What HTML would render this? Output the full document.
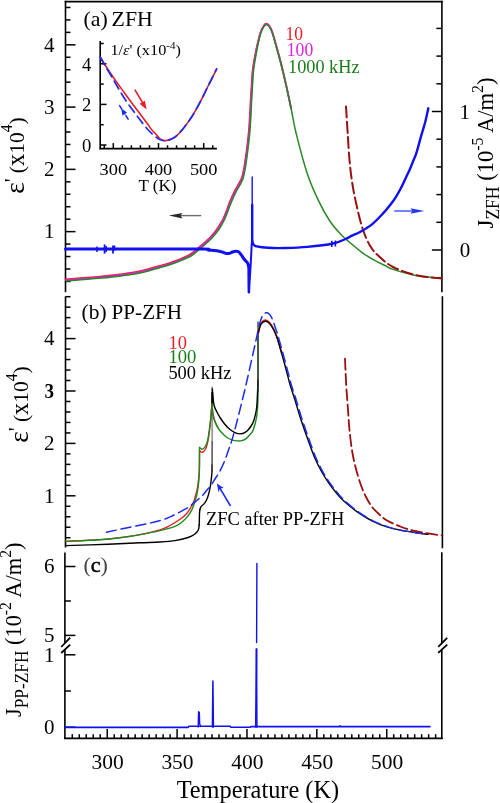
<!DOCTYPE html>
<html><head><meta charset="utf-8"><title>Dielectric permittivity and pyroelectric current vs temperature</title>
<style>html,body{margin:0;padding:0;background:#fff;} svg{display:block;}</style></head>
<body><svg width="500" height="803" viewBox="0 0 500 803">
<rect width="500" height="803" fill="#fff"/>
<g><line x1="64.7" y1="1.6" x2="442.7" y2="1.6" stroke="#000" stroke-width="1.6" /><line x1="65.5" y1="0.8" x2="65.5" y2="292.2" stroke="#000" stroke-width="1.6" /><line x1="441.9" y1="0.8" x2="441.9" y2="292.2" stroke="#000" stroke-width="1.6" /><line x1="65.5" y1="296.5" x2="65.5" y2="547.5" stroke="#000" stroke-width="1.6" /><line x1="442.4" y1="296.2" x2="442.4" y2="548.3" stroke="#000" stroke-width="1.6" /><line x1="64.9" y1="552.6" x2="64.9" y2="643.2" stroke="#000" stroke-width="1.6" /><line x1="64.9" y1="649.6" x2="64.9" y2="739.1" stroke="#000" stroke-width="1.6" /><line x1="441.8" y1="552.2" x2="441.8" y2="643.2" stroke="#000" stroke-width="1.6" /><line x1="441.8" y1="649.5" x2="441.8" y2="739.1" stroke="#000" stroke-width="1.6" /><line x1="64.1" y1="738.4" x2="442.6" y2="738.4" stroke="#000" stroke-width="1.8" /><line x1="61.2" y1="647" x2="70.2" y2="637.6" stroke="#000" stroke-width="1.8" /><line x1="61.2" y1="653" x2="70.2" y2="644.6" stroke="#000" stroke-width="1.8" /><line x1="438.2" y1="646.8" x2="447.2" y2="637.8" stroke="#000" stroke-width="1.8" /><line x1="438.2" y1="652.8" x2="447.2" y2="644.6" stroke="#000" stroke-width="1.8" /><line x1="65.5" y1="281.45" x2="70.5" y2="281.45" stroke="#000" stroke-width="1.5" /><line x1="65.5" y1="268.99" x2="70.5" y2="268.99" stroke="#000" stroke-width="1.5" /><line x1="65.5" y1="256.54" x2="70.5" y2="256.54" stroke="#000" stroke-width="1.5" /><line x1="65.5" y1="244.08" x2="70.5" y2="244.08" stroke="#000" stroke-width="1.5" /><line x1="65.5" y1="231.63" x2="75.5" y2="231.63" stroke="#000" stroke-width="1.5" /><line x1="65.5" y1="219.18" x2="70.5" y2="219.18" stroke="#000" stroke-width="1.5" /><line x1="65.5" y1="206.72" x2="70.5" y2="206.72" stroke="#000" stroke-width="1.5" /><line x1="65.5" y1="194.27" x2="70.5" y2="194.27" stroke="#000" stroke-width="1.5" /><line x1="65.5" y1="181.81" x2="70.5" y2="181.81" stroke="#000" stroke-width="1.5" /><line x1="65.5" y1="169.36" x2="75.5" y2="169.36" stroke="#000" stroke-width="1.5" /><line x1="65.5" y1="156.91" x2="70.5" y2="156.91" stroke="#000" stroke-width="1.5" /><line x1="65.5" y1="144.45" x2="70.5" y2="144.45" stroke="#000" stroke-width="1.5" /><line x1="65.5" y1="132" x2="70.5" y2="132" stroke="#000" stroke-width="1.5" /><line x1="65.5" y1="119.54" x2="70.5" y2="119.54" stroke="#000" stroke-width="1.5" /><line x1="65.5" y1="107.09" x2="75.5" y2="107.09" stroke="#000" stroke-width="1.5" /><line x1="65.5" y1="94.64" x2="70.5" y2="94.64" stroke="#000" stroke-width="1.5" /><line x1="65.5" y1="82.18" x2="70.5" y2="82.18" stroke="#000" stroke-width="1.5" /><line x1="65.5" y1="69.73" x2="70.5" y2="69.73" stroke="#000" stroke-width="1.5" /><line x1="65.5" y1="57.27" x2="70.5" y2="57.27" stroke="#000" stroke-width="1.5" /><line x1="65.5" y1="44.82" x2="75.5" y2="44.82" stroke="#000" stroke-width="1.5" /><line x1="65.5" y1="32.37" x2="70.5" y2="32.37" stroke="#000" stroke-width="1.5" /><line x1="65.5" y1="19.91" x2="70.5" y2="19.91" stroke="#000" stroke-width="1.5" /><line x1="65.5" y1="7.46" x2="70.5" y2="7.46" stroke="#000" stroke-width="1.5" /><line x1="436.4" y1="277.7" x2="441.9" y2="277.7" stroke="#000" stroke-width="1.5" /><line x1="431.9" y1="250" x2="441.9" y2="250" stroke="#000" stroke-width="1.5" /><line x1="436.4" y1="222.3" x2="441.9" y2="222.3" stroke="#000" stroke-width="1.5" /><line x1="436.4" y1="194.6" x2="441.9" y2="194.6" stroke="#000" stroke-width="1.5" /><line x1="436.4" y1="166.9" x2="441.9" y2="166.9" stroke="#000" stroke-width="1.5" /><line x1="436.4" y1="139.2" x2="441.9" y2="139.2" stroke="#000" stroke-width="1.5" /><line x1="431.9" y1="111.5" x2="441.9" y2="111.5" stroke="#000" stroke-width="1.5" /><line x1="436.4" y1="83.8" x2="441.9" y2="83.8" stroke="#000" stroke-width="1.5" /><line x1="436.4" y1="56.1" x2="441.9" y2="56.1" stroke="#000" stroke-width="1.5" /><line x1="436.4" y1="28.4" x2="441.9" y2="28.4" stroke="#000" stroke-width="1.5" /><line x1="65.5" y1="537.72" x2="70.5" y2="537.72" stroke="#000" stroke-width="1.5" /><line x1="65.5" y1="527.24" x2="70.5" y2="527.24" stroke="#000" stroke-width="1.5" /><line x1="65.5" y1="516.76" x2="70.5" y2="516.76" stroke="#000" stroke-width="1.5" /><line x1="65.5" y1="506.28" x2="70.5" y2="506.28" stroke="#000" stroke-width="1.5" /><line x1="65.5" y1="495.8" x2="75.5" y2="495.8" stroke="#000" stroke-width="1.5" /><line x1="65.5" y1="485.32" x2="70.5" y2="485.32" stroke="#000" stroke-width="1.5" /><line x1="65.5" y1="474.84" x2="70.5" y2="474.84" stroke="#000" stroke-width="1.5" /><line x1="65.5" y1="464.36" x2="70.5" y2="464.36" stroke="#000" stroke-width="1.5" /><line x1="65.5" y1="453.88" x2="70.5" y2="453.88" stroke="#000" stroke-width="1.5" /><line x1="65.5" y1="443.4" x2="75.5" y2="443.4" stroke="#000" stroke-width="1.5" /><line x1="65.5" y1="432.92" x2="70.5" y2="432.92" stroke="#000" stroke-width="1.5" /><line x1="65.5" y1="422.44" x2="70.5" y2="422.44" stroke="#000" stroke-width="1.5" /><line x1="65.5" y1="411.96" x2="70.5" y2="411.96" stroke="#000" stroke-width="1.5" /><line x1="65.5" y1="401.48" x2="70.5" y2="401.48" stroke="#000" stroke-width="1.5" /><line x1="65.5" y1="391" x2="75.5" y2="391" stroke="#000" stroke-width="1.5" /><line x1="65.5" y1="380.52" x2="70.5" y2="380.52" stroke="#000" stroke-width="1.5" /><line x1="65.5" y1="370.04" x2="70.5" y2="370.04" stroke="#000" stroke-width="1.5" /><line x1="65.5" y1="359.56" x2="70.5" y2="359.56" stroke="#000" stroke-width="1.5" /><line x1="65.5" y1="349.08" x2="70.5" y2="349.08" stroke="#000" stroke-width="1.5" /><line x1="65.5" y1="338.6" x2="75.5" y2="338.6" stroke="#000" stroke-width="1.5" /><line x1="65.5" y1="328.12" x2="70.5" y2="328.12" stroke="#000" stroke-width="1.5" /><line x1="65.5" y1="317.64" x2="70.5" y2="317.64" stroke="#000" stroke-width="1.5" /><line x1="65.5" y1="307.16" x2="70.5" y2="307.16" stroke="#000" stroke-width="1.5" /><line x1="65.5" y1="296.68" x2="70.5" y2="296.68" stroke="#000" stroke-width="1.5" /><line x1="64.9" y1="566.5" x2="75.4" y2="566.5" stroke="#000" stroke-width="1.5" /><line x1="64.9" y1="601" x2="70.9" y2="601" stroke="#000" stroke-width="1.5" /><line x1="64.9" y1="635.4" x2="75.4" y2="635.4" stroke="#000" stroke-width="1.5" /><line x1="64.9" y1="654.8" x2="75.4" y2="654.8" stroke="#000" stroke-width="1.5" /><line x1="64.9" y1="691" x2="70.9" y2="691" stroke="#000" stroke-width="1.5" /><line x1="64.9" y1="727.2" x2="75.4" y2="727.2" stroke="#000" stroke-width="1.5" /><line x1="72.29" y1="738.4" x2="72.29" y2="734.2" stroke="#000" stroke-width="1.5" /><line x1="79.27" y1="738.4" x2="79.27" y2="734.2" stroke="#000" stroke-width="1.5" /><line x1="86.26" y1="738.4" x2="86.26" y2="734.2" stroke="#000" stroke-width="1.5" /><line x1="93.25" y1="738.4" x2="93.25" y2="734.2" stroke="#000" stroke-width="1.5" /><line x1="100.24" y1="738.4" x2="100.24" y2="734.2" stroke="#000" stroke-width="1.5" /><line x1="107.22" y1="738.4" x2="107.22" y2="728.9" stroke="#000" stroke-width="1.5" /><line x1="114.21" y1="738.4" x2="114.21" y2="734.2" stroke="#000" stroke-width="1.5" /><line x1="121.2" y1="738.4" x2="121.2" y2="734.2" stroke="#000" stroke-width="1.5" /><line x1="128.19" y1="738.4" x2="128.19" y2="734.2" stroke="#000" stroke-width="1.5" /><line x1="135.18" y1="738.4" x2="135.18" y2="734.2" stroke="#000" stroke-width="1.5" /><line x1="142.16" y1="738.4" x2="142.16" y2="734.2" stroke="#000" stroke-width="1.5" /><line x1="149.15" y1="738.4" x2="149.15" y2="734.2" stroke="#000" stroke-width="1.5" /><line x1="156.14" y1="738.4" x2="156.14" y2="734.2" stroke="#000" stroke-width="1.5" /><line x1="163.12" y1="738.4" x2="163.12" y2="734.2" stroke="#000" stroke-width="1.5" /><line x1="170.11" y1="738.4" x2="170.11" y2="734.2" stroke="#000" stroke-width="1.5" /><line x1="177.1" y1="738.4" x2="177.1" y2="728.9" stroke="#000" stroke-width="1.5" /><line x1="184.09" y1="738.4" x2="184.09" y2="734.2" stroke="#000" stroke-width="1.5" /><line x1="191.07" y1="738.4" x2="191.07" y2="734.2" stroke="#000" stroke-width="1.5" /><line x1="198.06" y1="738.4" x2="198.06" y2="734.2" stroke="#000" stroke-width="1.5" /><line x1="205.05" y1="738.4" x2="205.05" y2="734.2" stroke="#000" stroke-width="1.5" /><line x1="212.04" y1="738.4" x2="212.04" y2="734.2" stroke="#000" stroke-width="1.5" /><line x1="219.02" y1="738.4" x2="219.02" y2="734.2" stroke="#000" stroke-width="1.5" /><line x1="226.01" y1="738.4" x2="226.01" y2="734.2" stroke="#000" stroke-width="1.5" /><line x1="233" y1="738.4" x2="233" y2="734.2" stroke="#000" stroke-width="1.5" /><line x1="239.99" y1="738.4" x2="239.99" y2="734.2" stroke="#000" stroke-width="1.5" /><line x1="246.97" y1="738.4" x2="246.97" y2="728.9" stroke="#000" stroke-width="1.5" /><line x1="253.96" y1="738.4" x2="253.96" y2="734.2" stroke="#000" stroke-width="1.5" /><line x1="260.95" y1="738.4" x2="260.95" y2="734.2" stroke="#000" stroke-width="1.5" /><line x1="267.94" y1="738.4" x2="267.94" y2="734.2" stroke="#000" stroke-width="1.5" /><line x1="274.93" y1="738.4" x2="274.93" y2="734.2" stroke="#000" stroke-width="1.5" /><line x1="281.91" y1="738.4" x2="281.91" y2="734.2" stroke="#000" stroke-width="1.5" /><line x1="288.9" y1="738.4" x2="288.9" y2="734.2" stroke="#000" stroke-width="1.5" /><line x1="295.89" y1="738.4" x2="295.89" y2="734.2" stroke="#000" stroke-width="1.5" /><line x1="302.88" y1="738.4" x2="302.88" y2="734.2" stroke="#000" stroke-width="1.5" /><line x1="309.86" y1="738.4" x2="309.86" y2="734.2" stroke="#000" stroke-width="1.5" /><line x1="316.85" y1="738.4" x2="316.85" y2="728.9" stroke="#000" stroke-width="1.5" /><line x1="323.84" y1="738.4" x2="323.84" y2="734.2" stroke="#000" stroke-width="1.5" /><line x1="330.82" y1="738.4" x2="330.82" y2="734.2" stroke="#000" stroke-width="1.5" /><line x1="337.81" y1="738.4" x2="337.81" y2="734.2" stroke="#000" stroke-width="1.5" /><line x1="344.8" y1="738.4" x2="344.8" y2="734.2" stroke="#000" stroke-width="1.5" /><line x1="351.79" y1="738.4" x2="351.79" y2="734.2" stroke="#000" stroke-width="1.5" /><line x1="358.77" y1="738.4" x2="358.77" y2="734.2" stroke="#000" stroke-width="1.5" /><line x1="365.76" y1="738.4" x2="365.76" y2="734.2" stroke="#000" stroke-width="1.5" /><line x1="372.75" y1="738.4" x2="372.75" y2="734.2" stroke="#000" stroke-width="1.5" /><line x1="379.74" y1="738.4" x2="379.74" y2="734.2" stroke="#000" stroke-width="1.5" /><line x1="386.73" y1="738.4" x2="386.73" y2="728.9" stroke="#000" stroke-width="1.5" /><line x1="393.71" y1="738.4" x2="393.71" y2="734.2" stroke="#000" stroke-width="1.5" /><line x1="400.7" y1="738.4" x2="400.7" y2="734.2" stroke="#000" stroke-width="1.5" /><line x1="407.69" y1="738.4" x2="407.69" y2="734.2" stroke="#000" stroke-width="1.5" /><line x1="414.68" y1="738.4" x2="414.68" y2="734.2" stroke="#000" stroke-width="1.5" /><line x1="421.66" y1="738.4" x2="421.66" y2="734.2" stroke="#000" stroke-width="1.5" /><line x1="428.65" y1="738.4" x2="428.65" y2="734.2" stroke="#000" stroke-width="1.5" /><line x1="435.64" y1="738.4" x2="435.64" y2="734.2" stroke="#000" stroke-width="1.5" /><path d="M65.5 279.4 C67.92 279.2 74.25 278.67 80 278.2 C85.75 277.73 93.33 277.23 100 276.6 C106.67 275.97 113.33 275.3 120 274.4 C126.67 273.5 133.33 272.63 140 271.2 C146.67 269.77 154.17 267.5 160 265.8 C165.83 264.1 170 262.88 175 261 C180 259.12 185.83 256.92 190 254.5 C194.17 252.08 196.67 249.33 200 246.5 C203.33 243.67 207.33 240.17 210 237.5 C212.67 234.83 214.33 232.67 216 230.5 C217.67 228.33 218.67 226.75 220 224.5 C221.33 222.25 222.83 219.5 224 217 C225.17 214.5 226 212.1 227 209.5 C228 206.9 228.58 204.73 230 201.4 C231.42 198.07 234 192.48 235.5 189.5 C237 186.52 237.92 185.58 239 183.5 C240.08 181.42 241.1 179.92 242 177 C242.9 174.08 243.67 170.17 244.4 166 C245.13 161.83 245.8 156.5 246.4 152 C247 147.5 247.53 143.33 248 139 C248.47 134.67 248.87 130.45 249.2 126 C249.53 121.55 249.72 117.48 250 112.3 C250.28 107.12 250.6 99.98 250.9 94.9 C251.2 89.82 251.52 85.87 251.8 81.8 C252.08 77.73 252.17 74.3 252.6 70.5 C253.03 66.7 253.58 63.48 254.4 59 C255.22 54.52 256.37 48.35 257.5 43.6 C258.63 38.85 259.75 33.85 261.2 30.5 C262.65 27.15 264.53 23.75 266.2 23.5 C267.87 23.25 269.55 25.43 271.2 29 C272.85 32.57 274.45 39.15 276.1 44.9 C277.75 50.65 279.43 56.87 281.1 63.5 C282.77 70.13 284.43 77.22 286.1 84.7 C287.77 92.18 290.27 104.45 291.1 108.4" fill="none" stroke="#ec1c24" stroke-width="1.7" stroke-linejoin="round" stroke-linecap="round" /><path d="M65.95 280.07 C68.37 279.88 74.7 279.34 80.45 278.88 C86.2 278.41 93.78 277.91 100.45 277.28 C107.12 276.64 113.78 275.98 120.45 275.07 C127.12 274.17 133.78 273.31 140.45 271.88 C147.12 270.44 154.62 268.18 160.45 266.48 C166.28 264.78 170.45 263.56 175.45 261.68 C180.45 259.79 186.28 257.59 190.45 255.18 C194.62 252.76 197.12 250.01 200.45 247.18 C203.78 244.34 207.78 240.84 210.45 238.18 C213.12 235.51 214.78 233.34 216.45 231.18 C218.12 229.01 219.12 227.43 220.45 225.18 C221.78 222.93 223.28 220.18 224.45 217.68 C225.62 215.18 226.45 212.78 227.45 210.18 C228.45 207.58 229.03 205.41 230.45 202.08 C231.87 198.74 234.45 193.16 235.95 190.18 C237.45 187.19 238.37 186.26 239.45 184.18 C240.53 182.09 241.55 180.59 242.45 177.68 C243.35 174.76 244.12 170.84 244.85 166.68 C245.58 162.51 246.25 157.18 246.85 152.68 C247.45 148.18 247.98 144.01 248.45 139.68 C248.92 135.34 249.32 131.12 249.65 126.67 C249.98 122.22 250.17 118.16 250.45 112.97 C250.73 107.79 251.03 100.65 251.32 95.57 C251.6 90.48 251.91 86.53 252.18 82.46 C252.46 78.39 252.54 74.96 252.95 71.16 C253.37 67.35 253.9 64.13 254.69 59.64 C255.47 55.15 256.58 48.98 257.67 44.22 C258.76 39.46 259.81 34.45 261.23 31.09 C262.65 27.74 264.54 24.34 266.2 24.09 C267.86 23.83 269.55 26.02 271.2 29.59 C272.85 33.15 274.45 39.74 276.1 45.48 C277.75 51.23 279.43 57.45 281.1 64.03 C282.77 70.62 284.43 77.59 286.1 84.99 C287.77 92.39 290.27 104.53 291.1 108.44" fill="none" stroke="#e020e0" stroke-width="1.7" stroke-linejoin="round" stroke-linecap="round" /><path d="M66.5 280.9 C68.92 280.7 75.25 280.17 81 279.7 C86.75 279.23 94.33 278.73 101 278.1 C107.67 277.47 114.33 276.8 121 275.9 C127.67 275 134.33 274.13 141 272.7 C147.67 271.27 155.17 269 161 267.3 C166.83 265.6 171 264.38 176 262.5 C181 260.62 186.83 258.42 191 256 C195.17 253.58 197.67 250.83 201 248 C204.33 245.17 208.33 241.67 211 239 C213.67 236.33 215.33 234.17 217 232 C218.67 229.83 219.67 228.25 221 226 C222.33 223.75 223.83 221 225 218.5 C226.17 216 227 213.6 228 211 C229 208.4 229.58 206.23 231 202.9 C232.42 199.57 235 193.98 236.5 191 C238 188.02 238.92 187.08 240 185 C241.08 182.92 242.1 181.42 243 178.5 C243.9 175.58 244.67 171.67 245.4 167.5 C246.13 163.33 246.8 158 247.4 153.5 C248 149 248.53 144.83 249 140.5 C249.47 136.17 249.87 131.95 250.2 127.5 C250.53 123.05 250.73 118.99 251 113.8 C251.27 108.61 251.55 101.47 251.83 96.39 C252.1 91.3 252.39 87.34 252.65 83.27 C252.91 79.2 252.99 75.76 253.38 71.96 C253.78 68.15 254.28 64.92 255.03 60.43 C255.78 55.93 256.84 49.74 257.88 44.98 C258.91 40.21 259.88 35.18 261.27 31.81 C262.65 28.45 264.54 25.05 266.2 24.8 C267.86 24.55 269.55 26.73 271.2 30.3 C272.85 33.87 274.45 40.47 276.1 46.2 C277.75 51.93 279.43 58.16 281.1 64.68 C282.77 71.2 284.43 78.04 286.1 85.34 C287.77 92.64 289.42 100.45 291.1 108.5 C292.78 116.54 293.48 122.68 296.2 133.6 C298.92 144.52 303.67 162.78 307.4 174 C311.13 185.22 314.87 193.07 318.6 200.9 C322.33 208.73 326.07 215.4 329.8 221 C333.53 226.6 337.25 230.57 341 234.5 C344.75 238.43 348.55 241.42 352.3 244.6 C356.05 247.78 359.77 250.98 363.5 253.6 C367.23 256.22 371.12 258.32 374.7 260.3 C378.28 262.28 381.95 263.98 385 265.5 C388.05 267.02 387.83 267.72 393 269.4 C398.17 271.08 407.85 274.08 416 275.6 C424.15 277.12 437.58 278.02 441.9 278.5" fill="none" stroke="#268826" stroke-width="1.5" stroke-linejoin="round" stroke-linecap="round" /><path d="M346 106.5 C346.3 111.25 347.22 126.08 347.8 135 C348.38 143.92 348.83 152.5 349.5 160 C350.17 167.5 350.78 173.18 351.8 180 C352.82 186.82 353.83 192.9 355.6 200.9 C357.37 208.9 359.97 220.48 362.4 228 C364.83 235.52 367.4 241.25 370.2 246 C373 250.75 375.4 253 379.2 256.5 C383 260 386.87 263.88 393 267 C399.13 270.12 407.85 273.28 416 275.2 C424.15 277.12 437.58 277.95 441.9 278.5" fill="none" stroke="#9a1010" stroke-width="2.0" stroke-linejoin="round" stroke-linecap="round" stroke-dasharray="11 4.3" stroke-linecap="butt"/><path d="M65.5 249 C79.58 249 126.92 249 150 249 C173.08 249 194.33 248.83 204 249 C213.67 249.17 206.33 249.75 208 250 C209.67 250.25 212.17 250.3 214 250.5 C215.83 250.7 217.5 250.9 219 251.2 C220.5 251.5 221.75 251.92 223 252.3 C224.25 252.68 225.42 253.32 226.5 253.5 C227.58 253.68 228.5 253.65 229.5 253.4 C230.5 253.15 231.47 252.37 232.5 252 C233.53 251.63 234.7 251.23 235.7 251.2 C236.7 251.17 237.62 251.25 238.5 251.8 C239.38 252.35 240.02 253.22 241 254.5 C241.98 255.78 243.35 258.17 244.4 259.5 C245.45 260.83 246.6 261.42 247.3 262.5 C248 263.58 248.38 265.42 248.6 266" fill="none" stroke="#1010f0" stroke-width="3.0" stroke-linejoin="round" stroke-linecap="round" /><path d="M248.6 265 L248.9 292.3" fill="none" stroke="#1010f0" stroke-width="2.6" stroke-linejoin="round" stroke-linecap="round" stroke-linecap="butt"/><path d="M248.9 292 L250.4 269.5 L251.8 243" fill="none" stroke="#1010f0" stroke-width="2.0" stroke-linejoin="round" stroke-linecap="round" /><path d="M252.2 244 L252.2 205" fill="none" stroke="#1010f0" stroke-width="2.4" stroke-linejoin="round" stroke-linecap="round" stroke-linecap="butt"/><path d="M252.2 206 L252.2 177" fill="none" stroke="#1010f0" stroke-width="1.4" stroke-linejoin="round" stroke-linecap="round" stroke-linecap="butt"/><path d="M252.2 241 C252.43 241.6 252.85 243.7 253.6 244.6 C254.35 245.5 254.3 245.87 256.7 246.4 C259.1 246.93 263.28 247.53 268 247.8 C272.72 248.07 278.43 248.15 285 248 C291.57 247.85 299.37 247.65 307.4 246.9 C315.43 246.15 326.85 244.82 333.2 243.5 C339.55 242.18 342.37 240.32 345.5 239 C348.63 237.68 349.58 236.77 352 235.6 C354.42 234.43 356.67 233.87 360 232 C363.33 230.13 368 227.67 372 224.4 C376 221.13 381 215.6 384 212.4 C387 209.2 388 207.8 390 205.2 C392 202.6 394 200 396 196.8 C398 193.6 400.33 189.22 402 186 C403.67 182.78 404.67 180.35 406 177.5 C407.33 174.65 408.78 171.68 410 168.9 C411.22 166.12 412.2 163.57 413.3 160.8 C414.4 158.03 415.33 156.3 416.6 152.3 C417.87 148.3 419.45 141.88 420.9 136.8 C422.35 131.72 424.07 126.55 425.3 121.8 C426.53 117.05 427.8 110.55 428.3 108.3" fill="none" stroke="#1010f0" stroke-width="2.4" stroke-linejoin="round" stroke-linecap="round" /><line x1="97" y1="246.6" x2="97" y2="252" stroke="#1010f0" stroke-width="1.5" /><line x1="104.6" y1="244.4" x2="104.6" y2="253.6" stroke="#1010f0" stroke-width="1.8" /><line x1="106.2" y1="246" x2="106.2" y2="252" stroke="#1010f0" stroke-width="1.5" /><line x1="113" y1="245.4" x2="113" y2="253.4" stroke="#1010f0" stroke-width="1.8" /><line x1="114.6" y1="245.5" x2="114.6" y2="250.5" stroke="#1010f0" stroke-width="1.4" /><line x1="331.8" y1="240.8" x2="331.8" y2="247" stroke="#1010f0" stroke-width="1.6" /><line x1="335.4" y1="240.5" x2="335.4" y2="246.5" stroke="#1010f0" stroke-width="1.6" /><line x1="201.2" y1="215.6" x2="178" y2="215.6" stroke="#6a6a6a" stroke-width="1.4" /><path d="M168.8 215.6 L182.5 212.9 L180.5 215.6 L182.5 218.4 Z" fill="#2a2a2a"/><line x1="394.2" y1="211" x2="414" y2="211" stroke="#5068ff" stroke-width="1.6" /><path d="M424.4 211 L410.5 208.2 L412.5 211 L410.5 213.8 Z" fill="#2838f0"/><path d="M65.5 541.4 C71.25 541.1 90.92 540.23 100 539.6 C109.08 538.97 113.33 538.43 120 537.6 C126.67 536.77 133.33 535.9 140 534.6 C146.67 533.3 155 531.32 160 529.8 C165 528.28 166.67 527.25 170 525.5 C173.33 523.75 177.17 521.35 180 519.3 C182.83 517.25 185.17 515.25 187 513.2 C188.83 511.15 189.83 509.03 191 507 C192.17 504.97 193.17 503.17 194 501 C194.83 498.83 195.4 496.33 196 494 C196.6 491.67 197.07 490.55 197.6 487 C198.13 483.45 198.88 478.78 199.2 472.7 C199.52 466.62 199.45 454.2 199.5 450.5" fill="none" stroke="#ec1c24" stroke-width="1.4" stroke-linejoin="round" stroke-linecap="round" /><path d="M199.5 450.5 C199.83 450.78 200.92 451.98 201.5 452.2 C202.08 452.42 202.42 452.17 203 451.8 C203.58 451.43 204.33 451.13 205 450 C205.67 448.87 206.42 447 207 445 C207.58 443 208 441 208.5 438 C209 435 209.58 430.5 210 427 C210.42 423.5 210.75 419.83 211 417 C211.25 414.17 211.33 412 211.5 410 C211.67 408 211.92 405.83 212 405" fill="none" stroke="#ec1c24" stroke-width="1.4" stroke-linejoin="round" stroke-linecap="round" /><path d="M65.5 541.4 C71.25 541.13 90.92 540.4 100 539.8 C109.08 539.2 113.33 538.67 120 537.8 C126.67 536.93 133.33 535.8 140 534.6 C146.67 533.4 154.17 531.97 160 530.6 C165.83 529.23 171.42 527.75 175 526.4 C178.58 525.05 179.32 524.25 181.5 522.5 C183.68 520.75 186.35 518.08 188.1 515.9 C189.85 513.72 190.8 512.02 192 509.4 C193.2 506.78 194.42 503.03 195.3 500.2 C196.18 497.37 196.75 495.23 197.3 492.4 C197.85 489.57 198.28 486.27 198.6 483.2 C198.92 480.13 199.05 476.83 199.2 474 C199.35 471.17 199.45 470.62 199.5 466.2 C199.55 461.78 199.5 450.62 199.5 447.5" fill="none" stroke="#1d8a1d" stroke-width="1.4" stroke-linejoin="round" stroke-linecap="round" /><path d="M199.5 447.5 C199.83 447.75 200.92 448.78 201.5 449 C202.08 449.22 202.42 449.13 203 448.8 C203.58 448.47 204.25 448.3 205 447 C205.75 445.7 206.83 443.5 207.5 441 C208.17 438.5 208.5 435.5 209 432 C209.5 428.5 210.08 423.92 210.5 420 C210.92 416.08 211.25 411.25 211.5 408.5 C211.75 405.75 211.92 404.33 212 403.5" fill="none" stroke="#1d8a1d" stroke-width="1.4" stroke-linejoin="round" stroke-linecap="round" /><path d="M65.5 545.6 C72.58 545.37 95.58 544.67 108 544.2 C120.42 543.73 131.33 543.17 140 542.8 C148.67 542.43 154.17 542.37 160 542 C165.83 541.63 170.32 541.35 175 540.6 C179.68 539.85 184.83 538.57 188.1 537.5 C191.37 536.43 192.92 535.4 194.6 534.2 C196.28 533 197.43 531.83 198.2 530.3 C198.97 528.77 199.03 525.88 199.2 525" fill="none" stroke="#000" stroke-width="1.4" stroke-linejoin="round" stroke-linecap="round" /><path d="M199.2 525 L199.5 513.3 L199.9 509.4" fill="none" stroke="#000" stroke-width="1.4" stroke-linejoin="round" stroke-linecap="round" /><path d="M199.9 509.4 C200.12 508.88 200.55 507.18 201.2 506.3 C201.85 505.42 202.93 505.12 203.8 504.1 C204.67 503.08 205.63 501.72 206.4 500.2 C207.17 498.68 207.85 496.75 208.4 495 C208.95 493.25 209.33 491.45 209.7 489.7 C210.07 487.95 210.32 486.45 210.6 484.5 C210.88 482.55 211.18 479.97 211.4 478 C211.62 476.03 211.78 474.87 211.9 472.7 C212.02 470.53 212.07 466.28 212.1 465" fill="none" stroke="#000" stroke-width="1.4" stroke-linejoin="round" stroke-linecap="round" /><line x1="212.1" y1="472" x2="212.1" y2="441" stroke="#444" stroke-width="1.4" /><line x1="212.1" y1="441" x2="212.1" y2="386.5" stroke="#555" stroke-width="1.0" /><line x1="212.2" y1="404" x2="212.2" y2="392" stroke="#000" stroke-width="2.0" /><path d="M212 405 C212.17 406.5 212.5 411.25 213 414 C213.5 416.75 214.17 419.25 215 421.5 C215.83 423.75 217.5 426.5 218 427.5" fill="none" stroke="#ec1c24" stroke-width="1.4" stroke-linejoin="round" stroke-linecap="round" /><path d="M212 403.5 C212.17 405.42 212.5 411.92 213 415 C213.5 418.08 214.17 419.83 215 422 C215.83 424.17 216.83 426.17 218 428 C219.17 429.83 220.5 431.42 222 433 C223.5 434.58 225.33 436.37 227 437.5 C228.67 438.63 230.25 439.23 232 439.8 C233.75 440.37 235.83 440.77 237.5 440.9 C239.17 441.03 240.55 440.98 242 440.6 C243.45 440.22 244.78 439.72 246.2 438.6 C247.62 437.48 249.33 435.33 250.5 433.9 C251.67 432.47 252.18 432.85 253.2 430 C254.22 427.15 255.82 421.63 256.6 416.8 C257.38 411.97 257.67 407.13 257.9 401 C258.13 394.87 257.98 391 258 380 C258.02 369 258 342.5 258 335" fill="none" stroke="#1d8a1d" stroke-width="1.4" stroke-linejoin="round" stroke-linecap="round" /><path d="M212.3 389 C212.58 391.67 213.22 401.17 214 405 C214.78 408.83 216 409.92 217 412 C218 414.08 218.67 415.42 220 417.5 C221.33 419.58 223.33 422.5 225 424.5 C226.67 426.5 228.33 428.15 230 429.5 C231.67 430.85 233.33 431.87 235 432.6 C236.67 433.33 238.3 433.93 240 433.9 C241.7 433.87 243.45 433.55 245.2 432.4 C246.95 431.25 249.03 429.07 250.5 427 C251.97 424.93 252.98 423.17 254 420 C255.02 416.83 256.02 412.5 256.6 408 C257.18 403.5 257.28 397.67 257.5 393 C257.72 388.33 257.83 382.17 257.9 380" fill="none" stroke="#000" stroke-width="1.4" stroke-linejoin="round" stroke-linecap="round" /><line x1="258" y1="392" x2="258" y2="321.5" stroke="#333" stroke-width="1.3" /><path d="M258.2 334 C258.67 332.25 259.68 325.8 261 323.5 C262.32 321.2 264.37 319.95 266.1 320.2 C267.83 320.45 269.65 322.37 271.4 325 C273.15 327.63 274.87 331.27 276.6 336 C278.33 340.73 280.93 350.5 281.8 353.4" fill="none" stroke="#ec1c24" stroke-width="1.5999999999999999" stroke-linejoin="round" stroke-linecap="round" /><path d="M258.2 333 C258.67 331.53 259.68 326.15 261 324.2 C262.32 322.25 264.37 321.02 266.1 321.3 C267.83 321.58 269.65 323.38 271.4 325.9 C273.15 328.42 274.87 331.75 276.6 336.4 C278.33 341.05 280.07 347.7 281.8 353.8 C283.53 359.9 285.63 367.88 287 373 C288.37 378.12 288.67 380 290 384.5 C291.33 389 293.33 394.63 295 400 C296.67 405.37 298 410.53 300 416.7 C302 422.87 304.58 430.23 307 437 C309.42 443.77 312.08 451.55 314.5 457.3 C316.92 463.05 319.08 467.15 321.5 471.5 C323.92 475.85 326.58 479.9 329 483.4 C331.42 486.9 333.58 489.6 336 492.5 C338.42 495.4 339.83 497.48 343.5 500.8 C347.17 504.12 353.17 509.02 358 512.4 C362.83 515.78 367.67 518.68 372.5 521.1 C377.33 523.52 382.17 525.35 387 526.9 C391.83 528.45 396.67 529.43 401.5 530.4 C406.33 531.37 411.58 532.05 416 532.7 C420.42 533.35 426 534.03 428 534.3" fill="none" stroke="#000" stroke-width="1.4" stroke-linejoin="round" stroke-linecap="round" /><path d="M106.4 532.2 C110.33 531.37 122.73 528.73 130 527.2 C137.27 525.67 144.47 524.27 150 523 C155.53 521.73 159.37 520.85 163.2 519.6 C167.03 518.35 170 516.88 173 515.5 C176 514.12 178.53 512.72 181.2 511.3 C183.87 509.88 187.03 508.28 189 507 C190.97 505.72 191.5 504.85 193 503.6 C194.5 502.35 196.42 500.85 198 499.5 C199.58 498.15 201 497.08 202.5 495.5 C204 493.92 205.67 491.58 207 490 C208.33 488.42 209.17 487.83 210.5 486 C211.83 484.17 213.42 481.5 215 479 C216.58 476.5 218.33 474.17 220 471 C221.67 467.83 223.55 463.58 225 460 C226.45 456.42 227.53 452.83 228.7 449.5 C229.87 446.17 230.53 445 232 440 C233.47 435 235.13 428.83 237.5 419.5 C239.87 410.17 243.3 396.38 246.2 384 C249.1 371.62 252.45 355.95 254.9 345.2 C257.35 334.45 259.03 324.9 260.9 319.5 C262.77 314.1 264.35 313.18 266.1 312.8 C267.85 312.42 269.52 313.67 271.4 317.2 C273.28 320.73 275.47 327.93 277.4 334 C279.33 340.07 281.2 347.1 283 353.6 C284.8 360.1 286.83 367.85 288.2 373 C289.57 378.15 289.87 380 291.2 384.5 C292.53 389 294.53 394.63 296.2 400 C297.87 405.37 299.2 410.53 301.2 416.7 C303.2 422.87 305.78 430.23 308.2 437 C310.62 443.77 313.28 451.55 315.7 457.3 C318.12 463.05 320.28 467.15 322.7 471.5 C325.12 475.85 327.78 479.9 330.2 483.4 C332.62 486.9 334.78 489.6 337.2 492.5 C339.62 495.4 341.07 497.48 344.7 500.8 C348.33 504.12 354.2 509.02 359 512.4 C363.8 515.78 368.67 518.68 373.5 521.1 C378.33 523.52 383.25 525.35 388 526.9 C392.75 528.45 397.33 529.43 402 530.4 C406.67 531.37 411.67 532.05 416 532.7 C420.33 533.35 426 534.03 428 534.3" fill="none" stroke="#1a2cf0" stroke-width="1.5" stroke-linejoin="round" stroke-linecap="round" stroke-dasharray="10 5" stroke-linecap="butt"/><path d="M345 358.7 C345.2 363.08 345.72 376.78 346.2 385 C346.68 393.22 347.35 400.5 347.9 408 C348.45 415.5 348.78 422.75 349.5 430 C350.22 437.25 351.12 445 352.2 451.5 C353.28 458 354.55 463.42 356 469 C357.45 474.58 359.23 480.33 360.9 485 C362.57 489.67 364.07 493.25 366 497 C367.93 500.75 370.17 504.5 372.5 507.5 C374.83 510.5 377.58 512.83 380 515 C382.42 517.17 383.42 518.5 387 520.5 C390.58 522.5 396.67 525.22 401.5 527 C406.33 528.78 409.18 529.77 416 531.2 C422.82 532.63 438 534.87 442.4 535.6" fill="none" stroke="#9a1010" stroke-width="1.8" stroke-linejoin="round" stroke-linecap="round" stroke-dasharray="11 4.3" stroke-linecap="butt"/><line x1="230.5" y1="506" x2="219.5" y2="487.5" stroke="#1a2cf0" stroke-width="1.5" /><path d="M216.9 483.6 L218.6 492.4 L219.9 488.5 L223.8 488.1 Z" fill="#1a2cf0"/><path d="M64.9 727.4 L188 727.4 L189 726.2 L230 726.2 L231 727.3 L250 727.3 L251 726.6 L430 726.6" fill="none" stroke="#1010f0" stroke-width="1.6" stroke-linejoin="round" stroke-linecap="round" /><path d="M198.2 727 L198.6 711.8 L199.3 712.5 L199.7 724 L200.8 726.6" fill="none" stroke="#1010f0" stroke-width="1.4" stroke-linejoin="round" stroke-linecap="round" /><path d="M212.4 727 L212.9 681 L213.4 727" fill="none" stroke="#1010f0" stroke-width="1.5" stroke-linejoin="round" stroke-linecap="round" /><path d="M255.8 727 L256.5 649" fill="none" stroke="#1010f0" stroke-width="1.7" stroke-linejoin="round" stroke-linecap="round" /><path d="M256.6 642.5 L256.9 563.4" fill="none" stroke="#1010f0" stroke-width="1.4" stroke-linejoin="round" stroke-linecap="round" /><path d="M256.5 649 L256.9 727" fill="none" stroke="#1010f0" stroke-width="1.5" stroke-linejoin="round" stroke-linecap="round" /><line x1="340" y1="726.6" x2="340" y2="725" stroke="#1010f0" stroke-width="1.2" /><line x1="100.2" y1="41" x2="100.2" y2="149.3" stroke="#000" stroke-width="1.6" /><line x1="99.5" y1="148.6" x2="216.9" y2="148.6" stroke="#000" stroke-width="1.6" /><line x1="100.2" y1="145" x2="106.5" y2="145" stroke="#000" stroke-width="1.5" /><line x1="100.2" y1="124.7" x2="103.7" y2="124.7" stroke="#000" stroke-width="1.5" /><line x1="100.2" y1="104.4" x2="106.5" y2="104.4" stroke="#000" stroke-width="1.5" /><line x1="100.2" y1="84.1" x2="103.7" y2="84.1" stroke="#000" stroke-width="1.5" /><line x1="100.2" y1="63.8" x2="106.5" y2="63.8" stroke="#000" stroke-width="1.5" /><line x1="100.2" y1="43.5" x2="103.7" y2="43.5" stroke="#000" stroke-width="1.5" /><line x1="104.26" y1="148.6" x2="104.26" y2="145.3" stroke="#000" stroke-width="1.5" /><line x1="113.3" y1="148.6" x2="113.3" y2="143.1" stroke="#000" stroke-width="1.5" /><line x1="122.34" y1="148.6" x2="122.34" y2="145.3" stroke="#000" stroke-width="1.5" /><line x1="131.38" y1="148.6" x2="131.38" y2="145.3" stroke="#000" stroke-width="1.5" /><line x1="140.42" y1="148.6" x2="140.42" y2="145.3" stroke="#000" stroke-width="1.5" /><line x1="149.46" y1="148.6" x2="149.46" y2="145.3" stroke="#000" stroke-width="1.5" /><line x1="158.5" y1="148.6" x2="158.5" y2="143.1" stroke="#000" stroke-width="1.5" /><line x1="167.54" y1="148.6" x2="167.54" y2="145.3" stroke="#000" stroke-width="1.5" /><line x1="176.58" y1="148.6" x2="176.58" y2="145.3" stroke="#000" stroke-width="1.5" /><line x1="185.62" y1="148.6" x2="185.62" y2="145.3" stroke="#000" stroke-width="1.5" /><line x1="194.66" y1="148.6" x2="194.66" y2="145.3" stroke="#000" stroke-width="1.5" /><line x1="203.7" y1="148.6" x2="203.7" y2="143.1" stroke="#000" stroke-width="1.5" /><line x1="212.74" y1="148.6" x2="212.74" y2="145.3" stroke="#000" stroke-width="1.5" /><path d="M100.2 57.4 C101.5 59.42 105.37 65.52 108 69.5 C110.63 73.48 113.33 77.5 116 81.3 C118.67 85.1 121.33 88.65 124 92.3 C126.67 95.95 129.33 99.62 132 103.2 C134.67 106.78 137.33 110.23 140 113.8 C142.67 117.37 146.08 121.97 148 124.6 C149.92 127.23 150.17 127.98 151.5 129.6 C152.83 131.22 154.67 132.83 156 134.3 C157.33 135.77 158.42 137.42 159.5 138.4 C160.58 139.38 161.5 139.83 162.5 140.2 C163.5 140.57 164.25 140.7 165.5 140.6 C166.75 140.5 168.22 140.35 170 139.6 C171.78 138.85 173.82 138.17 176.2 136.1 C178.58 134.03 181.6 130.58 184.3 127.2 C187 123.82 189.7 120.12 192.4 115.8 C195.1 111.48 197.8 106.43 200.5 101.3 C203.2 96.17 205.9 90.4 208.6 85 C211.3 79.6 215.35 71.58 216.7 68.9" fill="none" stroke="#ec1c24" stroke-width="1.6" stroke-linejoin="round" stroke-linecap="round" /><path d="M100.2 57 C101 58.42 103.2 62.42 105 65.5 C106.8 68.58 108.9 71.92 111 75.5 C113.1 79.08 115.27 83.03 117.6 87 C119.93 90.97 122.43 95.38 125 99.3 C127.57 103.22 130.5 107.08 133 110.5 C135.5 113.92 137.5 116.58 140 119.8 C142.5 123.02 145.73 127.27 148 129.8 C150.27 132.33 151.93 133.53 153.6 135 C155.27 136.47 156.6 137.72 158 138.6 C159.4 139.48 160.72 139.95 162 140.3 C163.28 140.65 164.37 140.82 165.7 140.7 C167.03 140.58 168.25 140.37 170 139.6 C171.75 138.83 173.82 138.17 176.2 136.1 C178.58 134.03 181.6 130.58 184.3 127.2 C187 123.82 189.7 120.12 192.4 115.8 C195.1 111.48 197.8 106.43 200.5 101.3 C203.2 96.17 205.9 90.4 208.6 85 C211.3 79.6 215.35 71.58 216.7 68.9" fill="none" stroke="#1a2cf0" stroke-width="1.7" stroke-linejoin="round" stroke-linecap="round" stroke-dasharray="9 5" stroke-linecap="butt"/><line x1="134.8" y1="89.6" x2="143" y2="103.4" stroke="#ec1c24" stroke-width="1.6" /><path d="M146.6 109.4 L139.6 103.8 L144.9 100.7 Z" fill="#ec1c24"/><path d="M119.6 105.6 L129.2 120.8" fill="none" stroke="#1a2cf0" stroke-width="1.5" stroke-linejoin="round" stroke-linecap="round" stroke-dasharray="4 2"/><path d="M121.3 108.6 L127.0 112.6 L122.4 115.4 Z" fill="#1a2cf0"/></g>
<g font-family="Liberation Serif, serif"><text x="54.6" y="238.43" font-size="20.5" text-anchor="end" fill="#000" textLength="10.5" lengthAdjust="spacingAndGlyphs" >1</text><text x="54.6" y="502.6" font-size="20.5" text-anchor="end" fill="#000" textLength="10.5" lengthAdjust="spacingAndGlyphs" >1</text><text x="54.6" y="176.16" font-size="20.5" text-anchor="end" fill="#000" textLength="10.5" lengthAdjust="spacingAndGlyphs" >2</text><text x="54.6" y="450.2" font-size="20.5" text-anchor="end" fill="#000" textLength="10.5" lengthAdjust="spacingAndGlyphs" >2</text><text x="54.6" y="113.89" font-size="20.5" text-anchor="end" fill="#000" textLength="10.5" lengthAdjust="spacingAndGlyphs" >3</text><text x="54" y="397.8" font-size="20.5" text-anchor="end" fill="#000" textLength="9.5" lengthAdjust="spacingAndGlyphs" font-weight="bold">3</text><text x="54.6" y="51.62" font-size="20.5" text-anchor="end" fill="#000" textLength="10.5" lengthAdjust="spacingAndGlyphs" >4</text><text x="54.6" y="345.4" font-size="20.5" text-anchor="end" fill="#000" textLength="10.5" lengthAdjust="spacingAndGlyphs" >4</text><text x="459.6" y="118.8" font-size="20.5" text-anchor="start" fill="#000" textLength="10.5" lengthAdjust="spacingAndGlyphs" >1</text><text x="459.8" y="257.2" font-size="20.5" text-anchor="start" fill="#000" textLength="10.5" lengthAdjust="spacingAndGlyphs" >0</text><text x="54.6" y="573.4" font-size="20.5" text-anchor="end" fill="#000" textLength="10.5" lengthAdjust="spacingAndGlyphs" >6</text><text x="54.6" y="642.4" font-size="20.5" text-anchor="end" fill="#000" textLength="10.5" lengthAdjust="spacingAndGlyphs" >5</text><text x="54.6" y="662.2" font-size="20.5" text-anchor="end" fill="#000" textLength="10.5" lengthAdjust="spacingAndGlyphs" >1</text><text x="54.6" y="733.8" font-size="20.5" text-anchor="end" fill="#000" textLength="10.5" lengthAdjust="spacingAndGlyphs" >0</text><text x="107.62" y="768.6" font-size="21.3" text-anchor="middle" fill="#000" textLength="32.2" lengthAdjust="spacingAndGlyphs" >300</text><text x="177.5" y="768.6" font-size="21.3" text-anchor="middle" fill="#000" textLength="32.2" lengthAdjust="spacingAndGlyphs" >350</text><text x="247.37" y="768.6" font-size="21.3" text-anchor="middle" fill="#000" textLength="32.2" lengthAdjust="spacingAndGlyphs" >400</text><text x="317.25" y="768.6" font-size="21.3" text-anchor="middle" fill="#000" textLength="32.2" lengthAdjust="spacingAndGlyphs" >450</text><text x="387.12" y="768.6" font-size="21.3" text-anchor="middle" fill="#000" textLength="32.2" lengthAdjust="spacingAndGlyphs" >500</text><text x="257.9" y="798" font-size="25" text-anchor="middle" fill="#000" textLength="162.5" lengthAdjust="spacingAndGlyphs" >Temperature (K)</text><text x="83.6" y="25.6" font-size="22" text-anchor="start" fill="#000" textLength="24.2" lengthAdjust="spacingAndGlyphs" >(a)</text><text x="111.6" y="26.2" font-size="21.7" text-anchor="start" fill="#000" textLength="41.2" lengthAdjust="spacingAndGlyphs" >ZFH</text><text x="81.6" y="318.9" font-size="22" text-anchor="start" fill="#000" textLength="25" lengthAdjust="spacingAndGlyphs" >(b)</text><text x="111.6" y="318.9" font-size="21.8" text-anchor="start" fill="#000" textLength="70.5" lengthAdjust="spacingAndGlyphs" >PP-ZFH</text><text x="83.4" y="572.2" font-size="21" textLength="24.5" lengthAdjust="spacingAndGlyphs"><tspan fill="#444">(</tspan><tspan stroke="#000" stroke-width="0.5">c</tspan><tspan fill="#444">)</tspan></text><text x="285.6" y="39.8" font-size="18.2" text-anchor="start" fill="#ec1c24" textLength="17.4" lengthAdjust="spacingAndGlyphs" >10</text><text x="286.8" y="55.8" font-size="18.2" text-anchor="start" fill="#e020e0" textLength="26.4" lengthAdjust="spacingAndGlyphs" >100</text><text x="288" y="72.6" font-size="18.2" text-anchor="start" fill="#1a7f1a" textLength="71.5" lengthAdjust="spacingAndGlyphs" >1000 kHz</text><text x="168.4" y="349" font-size="18" text-anchor="start" fill="#ec1c24" textLength="18.5" lengthAdjust="spacingAndGlyphs" >10</text><text x="168.4" y="363.4" font-size="18" text-anchor="start" fill="#1a7f1a" textLength="28" lengthAdjust="spacingAndGlyphs" >100</text><text x="168.4" y="379" font-size="18" text-anchor="start" fill="#000" textLength="63" lengthAdjust="spacingAndGlyphs" >500 kHz</text><text x="205.9" y="524.6" font-size="18.0" text-anchor="start" fill="#000" textLength="138.5" lengthAdjust="spacingAndGlyphs" >ZFC after PP-ZFH</text><text x="91.2" y="70.6" font-size="18" text-anchor="end" fill="#000" textLength="9.3" lengthAdjust="spacingAndGlyphs" >4</text><text x="91.2" y="111" font-size="18" text-anchor="end" fill="#000" textLength="9.3" lengthAdjust="spacingAndGlyphs" >2</text><text x="91.2" y="151.6" font-size="18" text-anchor="end" fill="#000" textLength="9.3" lengthAdjust="spacingAndGlyphs" >0</text><text x="113.3" y="175" font-size="16.5" text-anchor="middle" fill="#000" textLength="27.5" lengthAdjust="spacingAndGlyphs" >300</text><text x="158.5" y="175" font-size="16.5" text-anchor="middle" fill="#000" textLength="27.5" lengthAdjust="spacingAndGlyphs" >400</text><text x="203.7" y="175" font-size="16.5" text-anchor="middle" fill="#000" textLength="27.5" lengthAdjust="spacingAndGlyphs" >500</text><text x="157.4" y="191" font-size="17" text-anchor="middle" fill="#000" textLength="38" lengthAdjust="spacingAndGlyphs" >T (K)</text><text x="110.4" y="54.8" font-size="15.5" textLength="70.5" lengthAdjust="spacingAndGlyphs">1/<tspan font-style="italic">ε</tspan>' (x10<tspan font-size="10.5" dy="-6">-4</tspan><tspan dy="6">)</tspan></text><text x="24.2" y="155.6" font-size="22" text-anchor="middle" transform="rotate(-90 24.2 155.6)" textLength="76.5" lengthAdjust="spacingAndGlyphs"><tspan font-size="28">ε</tspan><tspan dy="-5">'</tspan><tspan dy="5"> (</tspan><tspan font-size="25">x</tspan>10<tspan font-size="16" dy="-12">4</tspan><tspan dy="12">)</tspan></text><text x="28" y="404.5" font-size="22" text-anchor="middle" transform="rotate(-90 28 404.5)" textLength="76.5" lengthAdjust="spacingAndGlyphs"><tspan font-size="28">ε</tspan><tspan dy="-5">'</tspan><tspan dy="5"> (</tspan><tspan font-size="25">x</tspan>10<tspan font-size="16" dy="-11">4</tspan><tspan dy="11">)</tspan></text><text x="493" y="152.9" font-size="23.5" text-anchor="middle" transform="rotate(-90 493 152.9)" textLength="151" lengthAdjust="spacingAndGlyphs">J<tspan font-size="18.2" dy="6.5">ZFH</tspan><tspan dy="-6.5"> (10</tspan><tspan font-size="16.5" dy="-10">-5</tspan><tspan dy="10"> A/m</tspan><tspan font-size="16.5" dy="-10">2</tspan><tspan dy="10">)</tspan></text><text x="21.3" y="629.8" font-size="23.5" text-anchor="middle" transform="rotate(-90 21.3 629.8)" textLength="174.5" lengthAdjust="spacingAndGlyphs">J<tspan font-size="18.2" dy="6.5">PP-ZFH</tspan><tspan dy="-6.5"> (10</tspan><tspan font-size="16.5" dy="-10">-2</tspan><tspan dy="10"> A/m</tspan><tspan font-size="16.5" dy="-10">2</tspan><tspan dy="10">)</tspan></text></g>
</svg></body></html>
